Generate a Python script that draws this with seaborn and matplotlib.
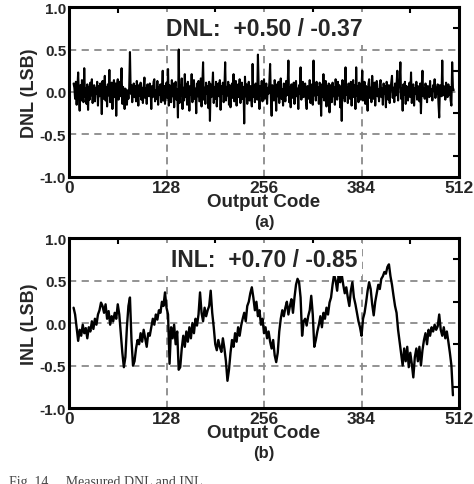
import numpy as np
import pandas as pd
import matplotlib
matplotlib.use("Agg")
import matplotlib.pyplot as plt
import seaborn as sns
from matplotlib.ticker import MultipleLocator

sns.set_style("white")
plt.rcParams['font.family'] = ['Liberation Sans', 'DejaVu Sans']

# measured DNL, one value per code (codes 6..505)
dnl_codes = np.arange(6, 506)
dnl = [
    0.10, 0.05, -0.08, 0.12, -0.15, 0.03, 0.23, -0.05, -0.22, 0.08, -0.10, 0.14, -0.03, -0.12, 0.28, -0.06, 0.04, -0.14, 0.09, -0.21,
    0.06, -0.09, 0.11, -0.04, 0.15, -0.13, 0.02, 0.08, -0.11, 0.05, -0.02, 0.12, -0.16, 0.07, -0.05, 0.10, 0.03, -0.26, 0.13, -0.08,
    0.04, 0.19, -0.10, 0.06, -0.17, 0.09, -0.04, 0.26, -0.12, 0.03, 0.11, -0.20, 0.08, 0.14, -0.06, 0.10, -0.28, 0.07, 0.15, -0.09,
    0.12, -0.05, 0.09, 0.28, -0.14, 0.06, -0.03, -0.20, 0.04, -0.10, -0.15, 0.02, -0.08, 0.05, 0.47, -0.02, 0.08, -0.12, 0.03, 0.10,
    -0.06, 0.07, -0.11, 0.13, 0.02, -0.16, 0.08, -0.04, 0.11, -0.09, 0.05, -0.13, 0.06, 0.17, -0.07, 0.04, -0.14, 0.09, 0.01, -0.05,
    0.10, 0.03, -0.20, 0.07, -0.06, 0.12, 0.15, -0.11, 0.02, -0.08, 0.13, -0.15, 0.06, -0.03, 0.09, -0.12, 0.04, 0.25, -0.10, 0.07,
    -0.14, 0.05, 0.11, -0.07, 0.27, -0.16, 0.08, 0.02, -0.12, 0.14, -0.05, 0.10, -0.18, 0.06, 0.12, -0.09, 0.03, -0.30, 0.50, -0.13,
    0.08, -0.04, 0.16, -0.20, 0.05, -0.10, 0.21, -0.06, 0.09, -0.15, 0.12, 0.01, -0.22, 0.07, -0.03, 0.21, -0.12, 0.06, 0.14, -0.08,
    0.04, -0.25, 0.10, -0.05, 0.13, -0.11, 0.03, 0.16, -0.17, 0.08, 0.35, -0.09, 0.05, -0.14, 0.11, -0.02, 0.07, -0.19, 0.12, -0.34,
    0.09, -0.06, 0.04, 0.23, -0.13, 0.06, -0.08, 0.12, -0.17, 0.03, 0.10, -0.05, 0.14, -0.21, 0.07, -0.02, 0.11, -0.12, 0.05, 0.35,
    -0.10, 0.06, -0.04, 0.12, -0.15, 0.08, -0.18, 0.03, 0.10, -0.07, 0.21, -0.11, 0.05, 0.13, -0.16, 0.02, 0.09, -0.06, 0.15, -0.13,
    0.04, 0.11, -0.08, 0.06, -0.37, 0.18, -0.05, 0.09, -0.14, 0.03, 0.12, -0.10, 0.07, -0.03, -0.17, 0.33, -0.06, 0.08, -0.12, 0.10,
    0.02, -0.09, 0.44, 0.05, -0.20, 0.07, -0.04, 0.13, -0.11, 0.06, 0.15, -0.08, 0.03, 0.10, -0.14, 0.05, -0.02, 0.12, 0.33, -0.07,
    -0.28, 0.08, 0.04, -0.10, 0.14, 0.02, -0.22, 0.09, -0.05, 0.12, -0.13, 0.06, 0.16, -0.08, 0.03, -0.16, 0.10, 0.05, -0.11, 0.13,
    -0.04, 0.07, 0.37, -0.12, 0.05, -0.18, 0.09, 0.02, -0.07, 0.11, -0.14, 0.06, 0.13, -0.05, 0.04, -0.20, 0.08, -0.02, 0.29, -0.09,
    0.06, 0.12, -0.06, 0.03, 0.10, -0.11, -0.20, 0.07, 0.02, -0.08, 0.14, -0.13, 0.05, 0.09, -0.15, 0.37, -0.04, 0.08, -0.10, 0.12,
    -0.03, 0.06, -0.14, 0.11, 0.04, -0.28, 0.09, -0.06, 0.21, -0.10, 0.05, 0.13, -0.17, 0.07, -0.02, 0.10, -0.24, 0.08, 0.03, -0.12,
    0.11, -0.05, 0.06, -0.15, 0.15, 0.02, -0.09, 0.12, -0.04, 0.08, -0.18, 0.05, -0.34, 0.14, -0.07, 0.09, -0.11, 0.29, -0.03, 0.06,
    -0.13, 0.10, 0.02, -0.08, 0.12, -0.16, 0.05, 0.14, -0.06, 0.08, -0.20, 0.29, -0.04, 0.07, -0.12, 0.11, 0.03, -0.09, 0.06, 0.25,
    -0.10, 0.04, 0.12, -0.14, 0.07, -0.03, -0.22, 0.09, 0.15, -0.07, 0.05, -0.12, 0.19, 0.02, -0.08, 0.11, -0.16, 0.06, 0.13, -0.05,
    0.03, -0.11, 0.09, 0.14, -0.06, 0.04, -0.15, 0.10, -0.02, 0.07, -0.18, 0.12, 0.05, -0.09, 0.08, -0.13, 0.03, 0.11, 0.19, -0.07,
    0.05, -0.12, 0.10, -0.04, 0.08, 0.25, -0.10, 0.06, 0.13, 0.35, -0.08, 0.04, -0.22, 0.09, -0.03, 0.12, -0.14, 0.07, 0.02, -0.10,
    0.06, 0.11, -0.06, 0.23, -0.13, 0.04, 0.09, -0.16, 0.05, -0.02, 0.12, -0.09, 0.07, 0.03, -0.11, 0.10, -0.25, 0.06, 0.25, -0.05,
    0.04, -0.08, 0.10, 0.02, -0.12, 0.07, 0.05, -0.06, 0.13, -0.04, 0.03, -0.10, 0.08, 0.01, 0.15, -0.07, 0.05, -0.02, 0.09, -0.13,
    -0.30, 0.08, 0.03, -0.05, 0.37, -0.04, 0.07, 0.02, -0.09, 0.11, 0.04, -0.06, 0.09, -0.03, 0.06, -0.10, -0.16, 0.35, 0.05, 0.02,
]

# measured INL, every other code (codes 6..504)
inl_codes = np.arange(6, 506, 2)
inl = [
    0.18, 0.10, -0.05, -0.21, -0.08, -0.15, -0.02, -0.12, -0.06, -0.18,
    -0.05, -0.10, 0.02, -0.07, 0.05, -0.02, 0.10, 0.15, 0.24, 0.20,
    0.12, 0.22, 0.05, 0.14, -0.02, 0.08, 0.02, 0.12, 0.05, 0.22,
    0.10, -0.12, -0.35, -0.52, -0.40, -0.05, 0.20, 0.30, -0.20, -0.50,
    -0.45, -0.30, -0.20, -0.25, -0.12, -0.22, -0.08, -0.18, -0.28, -0.12,
    -0.15, -0.05, 0.05, -0.02, 0.10, 0.04, 0.15, 0.12, 0.25, 0.20,
    0.36, 0.18, 0.10, -0.48, -0.05, -0.18, -0.02, -0.25, -0.10, -0.55,
    -0.52, -0.30, -0.15, -0.28, -0.10, -0.22, -0.05, -0.18, 0.00, -0.12,
    0.05, -0.03, 0.10, 0.36, 0.12, 0.02, 0.18, 0.08, 0.15, 0.20,
    0.38, 0.12, -0.05, -0.25, -0.32, -0.20, -0.28, -0.34, -0.18, -0.30,
    -0.45, -0.68, -0.55, -0.35, -0.20, -0.28, -0.12, -0.22, -0.05, -0.15,
    -0.03, 0.05, 0.12, 0.02, 0.20, 0.25, 0.35, 0.42, 0.30, 0.15,
    0.25, 0.08, 0.15, -0.02, 0.05, -0.12, -0.05, -0.18, -0.10, -0.22,
    -0.30, -0.20, -0.38, -0.46, -0.35, -0.10, 0.05, 0.15, 0.08, 0.18,
    0.25, 0.10, 0.20, 0.28, 0.12, 0.30, 0.45, 0.52, 0.48, 0.30,
    -0.15, 0.02, 0.05, -0.03, 0.08, 0.15, 0.32, 0.10, -0.28, -0.20,
    -0.10, -0.02, 0.08, -0.05, 0.12, 0.05, 0.18, 0.10, 0.24, 0.30,
    0.45, 0.57, 0.50, 0.38, 0.57, 0.48, 0.57, 0.45, 0.35, 0.42,
    0.30, 0.20, 0.38, 0.48, 0.30, 0.22, 0.12, 0.02, -0.05, -0.15,
    0.05, 0.12, 0.24, 0.38, 0.48, 0.40, 0.22, 0.09, 0.25, 0.35,
    0.45, 0.40, 0.52, 0.55, 0.60, 0.58, 0.66, 0.69, 0.55, 0.45,
    0.32, 0.20, 0.12, -0.08, -0.22, -0.35, -0.50, -0.30, -0.45, -0.28,
    -0.52, -0.35, -0.48, -0.64, -0.40, -0.30, -0.45, -0.28, -0.50, -0.32,
    -0.20, -0.12, -0.25, -0.08, -0.15, -0.05, -0.10, -0.02, -0.08, -0.04,
    0.10, -0.08, -0.15, -0.05, -0.18, -0.10, -0.22, -0.35, -0.50, -0.85,
]

x_ticks = [0, 128, 256, 384, 512]
y_ticks = [-1.0, -0.5, 0.0, 0.5, 1.0]

df_dnl = pd.DataFrame({'code': dnl_codes, 'value': dnl})
df_inl = pd.DataFrame({'code': inl_codes, 'value': inl})

fig = plt.figure(figsize=(4.74, 4.85), dpi=100)
ax1 = fig.add_axes([0.1456, 0.633, 0.8228, 0.3505])
ax2 = fig.add_axes([0.1456, 0.1567, 0.8228, 0.3505])


def style_axes(ax, ylabel, tag, sub):
    ax.set_xlim(0, 512)
    ax.set_ylim(-1.0, 1.0)
    ax.set_xticks(x_ticks)
    ax.set_yticks(y_ticks)
    ax.set_yticklabels([f"{t:.1f}" for t in y_ticks])
    ax.xaxis.set_minor_locator(MultipleLocator(64))
    ax.yaxis.set_minor_locator(MultipleLocator(0.25))
    ax.tick_params(which='both', direction='in', top=True, right=True,
                   width=1.5, color='black')
    ax.tick_params(which='major', length=0)
    ax.tick_params(which='minor', length=4)
    ax.tick_params(axis='x', which='major', labelsize=12.5, pad=2)
    ax.tick_params(axis='y', which='major', labelsize=11, pad=2)
    for lab in ax.get_xticklabels() + ax.get_yticklabels():
        lab.set_fontweight('bold')
    for sp in ax.spines.values():
        sp.set_linewidth(2.2)
        sp.set_color('black')
    for gx in x_ticks[1:-1]:
        ax.axvline(gx, color='#8a8a8a', lw=1.3, ls=(0, (4, 3)), zorder=0)
    for gy in y_ticks[1:-1]:
        ax.axhline(gy, color='#8a8a8a', lw=1.3, ls=(0, (4, 3)), zorder=0)
    ax.set_xlabel('Output Code', fontsize=13.5, fontweight='bold', labelpad=-1)
    ax.set_ylabel(ylabel, fontsize=13, fontweight='bold', labelpad=1)
    # the label sits on a white patch that hides grid and trace behind it
    ax.text(0.5, 0.94, tag, transform=ax.transAxes, ha='center', va='top',
            fontsize=16.5, fontweight='bold', zorder=6,
            bbox=dict(facecolor='white', edgecolor='none', pad=3.5))
    ax.text(0.5, -0.215, sub, transform=ax.transAxes, ha='center', va='top',
            fontsize=12, fontweight='bold')


sns.lineplot(data=df_dnl, x='code', y='value', ax=ax1, color='black', lw=1.5)
style_axes(ax1, 'DNL (LSB)', 'DNL:  +0.50 / -0.37', '(a)')

sns.lineplot(data=df_inl, x='code', y='value', ax=ax2, color='black', lw=1.7)
style_axes(ax2, 'INL (LSB)', 'INL:  +0.70 / -0.85', '(b)')

fig.text(0.02, 0.018, 'Fig. 14.    Measured DNL and INL.', ha='left', va='top',
         fontsize=10, family=['Liberation Serif', 'DejaVu Serif'], color='#444444')

fig.savefig('out.png', dpi=100)
